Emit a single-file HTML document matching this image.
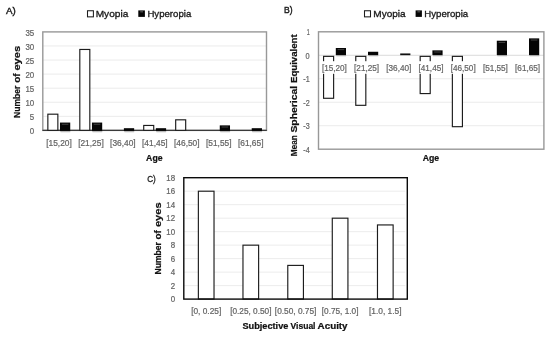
<!DOCTYPE html>
<html lang="en">
<head>
<meta charset="utf-8">
<title>Figure: refractive error distribution</title>
<style>
html,body{margin:0;padding:0;background:#fff;}
body{width:550px;height:339px;overflow:hidden;}
svg{display:block;font-family:"Liberation Sans", sans-serif;}
</style>
</head>
<body>
<svg width="550" height="339" viewBox="0 0 550 339">
<rect x="0" y="0" width="550" height="339" fill="#ffffff"/>
<line x1="42.80" y1="116.33" x2="266.50" y2="116.33" stroke="#ebebeb" stroke-width="1"/>
<line x1="42.80" y1="102.26" x2="266.50" y2="102.26" stroke="#ebebeb" stroke-width="1"/>
<line x1="42.80" y1="88.19" x2="266.50" y2="88.19" stroke="#ebebeb" stroke-width="1"/>
<line x1="42.80" y1="74.11" x2="266.50" y2="74.11" stroke="#ebebeb" stroke-width="1"/>
<line x1="42.80" y1="60.04" x2="266.50" y2="60.04" stroke="#ebebeb" stroke-width="1"/>
<line x1="42.80" y1="45.97" x2="266.50" y2="45.97" stroke="#ebebeb" stroke-width="1"/>
<rect x="42.80" y="31.90" width="223.70" height="98.50" fill="none" stroke="#989898" stroke-width="1.4"/>
<line x1="42.50" y1="130.40" x2="266.80" y2="130.40" stroke="#3a3a3a" stroke-width="1.15"/>
<rect x="47.85" y="114.19" width="10.00" height="16.14" fill="#fff" stroke="#1c1c1c" stroke-width="1.15"/>
<rect x="60.28" y="130.90" width="10.05" height="0.90" fill="#000" opacity="0.28"/>
<rect x="60.58" y="131.80" width="9.65" height="0.90" fill="#000" opacity="0.10"/>
<rect x="59.98" y="122.56" width="10.25" height="8.34" fill="#050505"/>
<rect x="61.78" y="123.76" width="6.65" height="0.90" fill="#4a4a4a"/>
<text x="58.98" y="146.00" font-size="8.7" text-anchor="middle" fill="#646464" textLength="25.60" lengthAdjust="spacingAndGlyphs" stroke="#646464" stroke-width="0.22">[15,20]</text>
<rect x="79.81" y="49.46" width="10.00" height="80.86" fill="#fff" stroke="#1c1c1c" stroke-width="1.15"/>
<rect x="92.24" y="130.90" width="10.05" height="0.90" fill="#000" opacity="0.28"/>
<rect x="92.54" y="131.80" width="9.65" height="0.90" fill="#000" opacity="0.10"/>
<rect x="91.94" y="122.56" width="10.25" height="8.34" fill="#050505"/>
<rect x="93.74" y="123.76" width="6.65" height="0.90" fill="#4a4a4a"/>
<text x="90.94" y="146.00" font-size="8.7" text-anchor="middle" fill="#646464" textLength="25.60" lengthAdjust="spacingAndGlyphs" stroke="#646464" stroke-width="0.22">[21,25]</text>
<rect x="124.19" y="130.90" width="10.05" height="0.90" fill="#000" opacity="0.28"/>
<rect x="124.49" y="131.80" width="9.65" height="0.90" fill="#000" opacity="0.10"/>
<rect x="123.89" y="128.19" width="10.25" height="2.71" fill="#050505"/>
<text x="122.89" y="146.00" font-size="8.7" text-anchor="middle" fill="#646464" textLength="25.60" lengthAdjust="spacingAndGlyphs" stroke="#646464" stroke-width="0.22">[36,40]</text>
<rect x="143.72" y="125.45" width="10.00" height="4.88" fill="#fff" stroke="#1c1c1c" stroke-width="1.15"/>
<rect x="156.15" y="130.90" width="10.05" height="0.90" fill="#000" opacity="0.28"/>
<rect x="156.45" y="131.80" width="9.65" height="0.90" fill="#000" opacity="0.10"/>
<rect x="155.85" y="128.19" width="10.25" height="2.71" fill="#050505"/>
<text x="154.85" y="146.00" font-size="8.7" text-anchor="middle" fill="#646464" textLength="25.60" lengthAdjust="spacingAndGlyphs" stroke="#646464" stroke-width="0.22">[41,45]</text>
<rect x="175.68" y="119.82" width="10.00" height="10.51" fill="#fff" stroke="#1c1c1c" stroke-width="1.15"/>
<text x="186.81" y="146.00" font-size="8.7" text-anchor="middle" fill="#646464" textLength="25.60" lengthAdjust="spacingAndGlyphs" stroke="#646464" stroke-width="0.22">[46,50]</text>
<rect x="220.06" y="130.90" width="10.05" height="0.90" fill="#000" opacity="0.28"/>
<rect x="220.36" y="131.80" width="9.65" height="0.90" fill="#000" opacity="0.10"/>
<rect x="219.76" y="125.37" width="10.25" height="5.53" fill="#050505"/>
<rect x="221.56" y="126.57" width="6.65" height="0.90" fill="#4a4a4a"/>
<text x="218.76" y="146.00" font-size="8.7" text-anchor="middle" fill="#646464" textLength="25.60" lengthAdjust="spacingAndGlyphs" stroke="#646464" stroke-width="0.22">[51,55]</text>
<rect x="252.02" y="130.90" width="10.05" height="0.90" fill="#000" opacity="0.28"/>
<rect x="252.32" y="131.80" width="9.65" height="0.90" fill="#000" opacity="0.10"/>
<rect x="251.72" y="128.19" width="10.25" height="2.71" fill="#050505"/>
<text x="250.72" y="146.00" font-size="8.7" text-anchor="middle" fill="#646464" textLength="25.60" lengthAdjust="spacingAndGlyphs" stroke="#646464" stroke-width="0.22">[61,65]</text>
<text x="34.20" y="134.00" font-size="8.7" text-anchor="end" fill="#646464" textLength="4.40" lengthAdjust="spacingAndGlyphs" stroke="#646464" stroke-width="0.22">0</text>
<text x="34.20" y="119.93" font-size="8.7" text-anchor="end" fill="#646464" textLength="4.40" lengthAdjust="spacingAndGlyphs" stroke="#646464" stroke-width="0.22">5</text>
<text x="34.20" y="105.86" font-size="8.7" text-anchor="end" fill="#646464" textLength="8.80" lengthAdjust="spacingAndGlyphs" stroke="#646464" stroke-width="0.22">10</text>
<text x="34.20" y="91.79" font-size="8.7" text-anchor="end" fill="#646464" textLength="8.80" lengthAdjust="spacingAndGlyphs" stroke="#646464" stroke-width="0.22">15</text>
<text x="34.20" y="77.71" font-size="8.7" text-anchor="end" fill="#646464" textLength="8.80" lengthAdjust="spacingAndGlyphs" stroke="#646464" stroke-width="0.22">20</text>
<text x="34.20" y="63.64" font-size="8.7" text-anchor="end" fill="#646464" textLength="8.80" lengthAdjust="spacingAndGlyphs" stroke="#646464" stroke-width="0.22">25</text>
<text x="34.20" y="49.57" font-size="8.7" text-anchor="end" fill="#646464" textLength="8.80" lengthAdjust="spacingAndGlyphs" stroke="#646464" stroke-width="0.22">30</text>
<text x="34.20" y="35.50" font-size="8.7" text-anchor="end" fill="#646464" textLength="8.80" lengthAdjust="spacingAndGlyphs" stroke="#646464" stroke-width="0.22">35</text>
<text transform="translate(19.80 118.00) rotate(-90)" font-size="9.7" font-weight="700" fill="#111" stroke="#111" stroke-width="0.22"><tspan x="0.00" textLength="32.40" lengthAdjust="spacingAndGlyphs">Number</tspan> <tspan x="35.30" textLength="9.30" lengthAdjust="spacingAndGlyphs">of</tspan> <tspan x="47.40" textLength="24.90" lengthAdjust="spacingAndGlyphs">eyes</tspan></text>
<text x="146.10" y="161.10" font-size="9.2" text-anchor="start" fill="#111" font-weight="700" textLength="16.50" lengthAdjust="spacingAndGlyphs" stroke="#111" stroke-width="0.22">Age</text>
<text x="5.90" y="13.60" font-size="9.6" text-anchor="start" fill="#1a1a1a" textLength="9.80" lengthAdjust="spacingAndGlyphs" stroke="#1a1a1a" stroke-width="0.4">A)</text>
<rect x="87.50" y="10.75" width="5.90" height="6.10" fill="#fff" stroke="#1c1c1c" stroke-width="1.05"/>
<text x="95.70" y="16.80" font-size="9.7" text-anchor="start" fill="#1a1a1a" textLength="32.60" lengthAdjust="spacingAndGlyphs" stroke="#1a1a1a" stroke-width="0.32">Myopia</text>
<rect x="138.30" y="10.40" width="6.60" height="6.50" fill="#050505"/>
<rect x="140.20" y="11.40" width="2.80" height="0.90" fill="#6a6a6a"/>
<text x="147.40" y="16.80" font-size="9.7" text-anchor="start" fill="#1a1a1a" textLength="43.90" lengthAdjust="spacingAndGlyphs" stroke="#1a1a1a" stroke-width="0.32">Hyperopia</text>
<line x1="318.50" y1="55.28" x2="543.90" y2="55.28" stroke="#dadada" stroke-width="1"/>
<line x1="318.50" y1="78.76" x2="543.90" y2="78.76" stroke="#ebebeb" stroke-width="1"/>
<line x1="318.50" y1="102.24" x2="543.90" y2="102.24" stroke="#ebebeb" stroke-width="1"/>
<line x1="318.50" y1="125.72" x2="543.90" y2="125.72" stroke="#ebebeb" stroke-width="1"/>
<rect x="318.50" y="31.80" width="225.40" height="117.40" fill="none" stroke="#989898" stroke-width="1.4"/>
<rect x="323.57" y="56.36" width="10.05" height="41.92" fill="#fff" stroke="#1c1c1c" stroke-width="1.15"/>
<rect x="336.10" y="54.98" width="10.00" height="0.90" fill="#000" opacity="0.28"/>
<rect x="336.40" y="55.88" width="9.60" height="0.90" fill="#000" opacity="0.10"/>
<rect x="335.80" y="48.00" width="10.20" height="6.98" fill="#050505"/>
<rect x="337.60" y="49.20" width="6.60" height="0.90" fill="#4a4a4a"/>
<rect x="320.10" y="61.20" width="29.00" height="12.60" fill="#fff"/>
<text x="334.40" y="71.30" font-size="8.7" text-anchor="middle" fill="#646464" textLength="25.00" lengthAdjust="spacingAndGlyphs" stroke="#646464" stroke-width="0.22">[15,20]</text>
<rect x="355.77" y="56.36" width="10.05" height="48.96" fill="#fff" stroke="#1c1c1c" stroke-width="1.15"/>
<rect x="368.30" y="54.98" width="10.00" height="0.90" fill="#000" opacity="0.28"/>
<rect x="368.60" y="55.88" width="9.60" height="0.90" fill="#000" opacity="0.10"/>
<rect x="368.00" y="51.76" width="10.20" height="3.22" fill="#050505"/>
<rect x="352.30" y="61.20" width="29.00" height="12.60" fill="#fff"/>
<text x="366.60" y="71.30" font-size="8.7" text-anchor="middle" fill="#646464" textLength="25.00" lengthAdjust="spacingAndGlyphs" stroke="#646464" stroke-width="0.22">[21,25]</text>
<rect x="400.20" y="53.44" width="10.20" height="1.74" fill="#111"/>
<rect x="384.50" y="61.20" width="29.00" height="12.60" fill="#fff"/>
<text x="398.80" y="71.30" font-size="8.7" text-anchor="middle" fill="#646464" textLength="25.00" lengthAdjust="spacingAndGlyphs" stroke="#646464" stroke-width="0.22">[36,40]</text>
<rect x="420.17" y="56.36" width="10.05" height="37.22" fill="#fff" stroke="#1c1c1c" stroke-width="1.15"/>
<rect x="432.70" y="54.98" width="10.00" height="0.90" fill="#000" opacity="0.28"/>
<rect x="433.00" y="55.88" width="9.60" height="0.90" fill="#000" opacity="0.10"/>
<rect x="432.40" y="50.35" width="10.20" height="4.63" fill="#050505"/>
<rect x="434.20" y="51.55" width="6.60" height="0.90" fill="#4a4a4a"/>
<rect x="416.70" y="61.20" width="29.00" height="12.60" fill="#fff"/>
<text x="431.00" y="71.30" font-size="8.7" text-anchor="middle" fill="#646464" textLength="25.00" lengthAdjust="spacingAndGlyphs" stroke="#646464" stroke-width="0.22">[41,45]</text>
<rect x="452.37" y="56.36" width="10.05" height="70.33" fill="#fff" stroke="#1c1c1c" stroke-width="1.15"/>
<rect x="448.90" y="61.20" width="29.00" height="12.60" fill="#fff"/>
<text x="463.20" y="71.30" font-size="8.7" text-anchor="middle" fill="#646464" textLength="25.00" lengthAdjust="spacingAndGlyphs" stroke="#646464" stroke-width="0.22">[46,50]</text>
<rect x="497.10" y="54.98" width="10.00" height="0.90" fill="#000" opacity="0.28"/>
<rect x="497.40" y="55.88" width="9.60" height="0.90" fill="#000" opacity="0.10"/>
<rect x="496.80" y="40.72" width="10.20" height="14.26" fill="#050505"/>
<rect x="498.60" y="41.92" width="6.60" height="0.90" fill="#4a4a4a"/>
<rect x="481.10" y="61.20" width="29.00" height="12.60" fill="#fff"/>
<text x="495.40" y="71.30" font-size="8.7" text-anchor="middle" fill="#646464" textLength="25.00" lengthAdjust="spacingAndGlyphs" stroke="#646464" stroke-width="0.22">[51,55]</text>
<rect x="529.30" y="54.98" width="10.00" height="0.90" fill="#000" opacity="0.28"/>
<rect x="529.60" y="55.88" width="9.60" height="0.90" fill="#000" opacity="0.10"/>
<rect x="529.00" y="38.37" width="10.20" height="16.61" fill="#050505"/>
<rect x="530.80" y="39.57" width="6.60" height="0.90" fill="#4a4a4a"/>
<rect x="513.30" y="61.20" width="29.00" height="12.60" fill="#fff"/>
<text x="527.60" y="71.30" font-size="8.7" text-anchor="middle" fill="#646464" textLength="25.00" lengthAdjust="spacingAndGlyphs" stroke="#646464" stroke-width="0.22">[61,65]</text>
<text x="309.70" y="35.30" font-size="8.7" text-anchor="end" fill="#646464" textLength="3.00" lengthAdjust="spacingAndGlyphs" stroke="#646464" stroke-width="0.22">1</text>
<text x="309.70" y="58.78" font-size="8.7" text-anchor="end" fill="#646464" textLength="4.10" lengthAdjust="spacingAndGlyphs" stroke="#646464" stroke-width="0.22">0</text>
<text x="309.70" y="82.26" font-size="8.7" text-anchor="end" fill="#646464" textLength="6.40" lengthAdjust="spacingAndGlyphs" stroke="#646464" stroke-width="0.22">-1</text>
<text x="309.70" y="105.74" font-size="8.7" text-anchor="end" fill="#646464" textLength="6.40" lengthAdjust="spacingAndGlyphs" stroke="#646464" stroke-width="0.22">-2</text>
<text x="309.70" y="128.82" font-size="8.7" text-anchor="end" fill="#646464" textLength="6.40" lengthAdjust="spacingAndGlyphs" stroke="#646464" stroke-width="0.22">-3</text>
<text x="309.70" y="152.70" font-size="8.7" text-anchor="end" fill="#646464" textLength="6.40" lengthAdjust="spacingAndGlyphs" stroke="#646464" stroke-width="0.22">-4</text>
<text transform="translate(297.10 156.20) rotate(-90)" font-size="9.4" font-weight="700" fill="#111" stroke="#111" stroke-width="0.22"><tspan x="0.00" textLength="21.00" lengthAdjust="spacingAndGlyphs">Mean</tspan> <tspan x="23.60" textLength="46.80" lengthAdjust="spacingAndGlyphs">Spherical</tspan> <tspan x="73.20" textLength="48.60" lengthAdjust="spacingAndGlyphs">Equivalent</tspan></text>
<text x="422.70" y="161.00" font-size="9.2" text-anchor="start" fill="#111" font-weight="700" textLength="16.50" lengthAdjust="spacingAndGlyphs" stroke="#111" stroke-width="0.22">Age</text>
<text x="284.00" y="12.90" font-size="9.4" text-anchor="start" fill="#1a1a1a" textLength="8.60" lengthAdjust="spacingAndGlyphs" stroke="#1a1a1a" stroke-width="0.4">B)</text>
<rect x="364.50" y="10.75" width="6.00" height="6.10" fill="#fff" stroke="#1c1c1c" stroke-width="1.05"/>
<text x="373.30" y="16.80" font-size="9.7" text-anchor="start" fill="#1a1a1a" textLength="32.30" lengthAdjust="spacingAndGlyphs" stroke="#1a1a1a" stroke-width="0.32">Myopia</text>
<rect x="415.60" y="10.40" width="6.30" height="6.50" fill="#050505"/>
<rect x="417.40" y="11.40" width="2.80" height="0.90" fill="#6a6a6a"/>
<text x="424.30" y="16.80" font-size="9.7" text-anchor="start" fill="#1a1a1a" textLength="43.90" lengthAdjust="spacingAndGlyphs" stroke="#1a1a1a" stroke-width="0.32">Hyperopia</text>
<line x1="183.80" y1="285.61" x2="405.30" y2="285.61" stroke="#ececec" stroke-width="1"/>
<line x1="183.80" y1="272.12" x2="405.30" y2="272.12" stroke="#ececec" stroke-width="1"/>
<line x1="183.80" y1="258.63" x2="405.30" y2="258.63" stroke="#ececec" stroke-width="1"/>
<line x1="183.80" y1="245.14" x2="405.30" y2="245.14" stroke="#ececec" stroke-width="1"/>
<line x1="183.80" y1="231.66" x2="405.30" y2="231.66" stroke="#ececec" stroke-width="1"/>
<line x1="183.80" y1="218.17" x2="405.30" y2="218.17" stroke="#ececec" stroke-width="1"/>
<line x1="183.80" y1="204.68" x2="405.30" y2="204.68" stroke="#ececec" stroke-width="1"/>
<line x1="183.80" y1="191.19" x2="405.30" y2="191.19" stroke="#ececec" stroke-width="1"/>
<rect x="198.37" y="191.21" width="15.65" height="107.81" fill="#fff" stroke="#1c1c1c" stroke-width="1.15"/>
<text x="206.20" y="314.00" font-size="8.5" text-anchor="middle" fill="#646464" textLength="30.00" lengthAdjust="spacingAndGlyphs" stroke="#646464" stroke-width="0.22">[0, 0.25]</text>
<rect x="242.97" y="245.17" width="15.65" height="53.86" fill="#fff" stroke="#1c1c1c" stroke-width="1.15"/>
<text x="250.80" y="314.00" font-size="8.5" text-anchor="middle" fill="#646464" textLength="41.30" lengthAdjust="spacingAndGlyphs" stroke="#646464" stroke-width="0.22">[0.25, 0.50]</text>
<rect x="287.78" y="265.40" width="15.65" height="33.62" fill="#fff" stroke="#1c1c1c" stroke-width="1.15"/>
<text x="295.60" y="314.00" font-size="8.5" text-anchor="middle" fill="#646464" textLength="41.50" lengthAdjust="spacingAndGlyphs" stroke="#646464" stroke-width="0.22">[0.50, 0.75]</text>
<rect x="332.28" y="218.19" width="15.65" height="80.83" fill="#fff" stroke="#1c1c1c" stroke-width="1.15"/>
<text x="340.10" y="314.00" font-size="8.5" text-anchor="middle" fill="#646464" textLength="36.70" lengthAdjust="spacingAndGlyphs" stroke="#646464" stroke-width="0.22">[0.75, 1.0]</text>
<rect x="377.48" y="224.94" width="15.65" height="74.09" fill="#fff" stroke="#1c1c1c" stroke-width="1.15"/>
<text x="385.30" y="314.00" font-size="8.5" text-anchor="middle" fill="#646464" textLength="32.60" lengthAdjust="spacingAndGlyphs" stroke="#646464" stroke-width="0.22">[1.0, 1.5]</text>
<rect x="183.80" y="177.70" width="223.50" height="121.40" fill="none" stroke="#0a0a0a" stroke-width="1.4"/>
<text x="175.10" y="302.10" font-size="8.5" text-anchor="end" fill="#646464" textLength="4.40" lengthAdjust="spacingAndGlyphs" stroke="#646464" stroke-width="0.22">0</text>
<text x="175.10" y="288.61" font-size="8.5" text-anchor="end" fill="#646464" textLength="4.40" lengthAdjust="spacingAndGlyphs" stroke="#646464" stroke-width="0.22">2</text>
<text x="175.10" y="275.12" font-size="8.5" text-anchor="end" fill="#646464" textLength="4.40" lengthAdjust="spacingAndGlyphs" stroke="#646464" stroke-width="0.22">4</text>
<text x="175.10" y="261.63" font-size="8.5" text-anchor="end" fill="#646464" textLength="4.40" lengthAdjust="spacingAndGlyphs" stroke="#646464" stroke-width="0.22">6</text>
<text x="175.10" y="248.14" font-size="8.5" text-anchor="end" fill="#646464" textLength="4.40" lengthAdjust="spacingAndGlyphs" stroke="#646464" stroke-width="0.22">8</text>
<text x="175.10" y="234.66" font-size="8.5" text-anchor="end" fill="#646464" textLength="8.80" lengthAdjust="spacingAndGlyphs" stroke="#646464" stroke-width="0.22">10</text>
<text x="175.10" y="221.17" font-size="8.5" text-anchor="end" fill="#646464" textLength="8.80" lengthAdjust="spacingAndGlyphs" stroke="#646464" stroke-width="0.22">12</text>
<text x="175.10" y="207.68" font-size="8.5" text-anchor="end" fill="#646464" textLength="8.80" lengthAdjust="spacingAndGlyphs" stroke="#646464" stroke-width="0.22">14</text>
<text x="175.10" y="194.19" font-size="8.5" text-anchor="end" fill="#646464" textLength="8.80" lengthAdjust="spacingAndGlyphs" stroke="#646464" stroke-width="0.22">16</text>
<text x="175.10" y="180.70" font-size="8.5" text-anchor="end" fill="#646464" textLength="8.80" lengthAdjust="spacingAndGlyphs" stroke="#646464" stroke-width="0.22">18</text>
<text transform="translate(160.60 274.50) rotate(-90)" font-size="9.2" font-weight="700" fill="#111" stroke="#111" stroke-width="0.22"><tspan x="0.00" textLength="32.40" lengthAdjust="spacingAndGlyphs">Number</tspan> <tspan x="35.00" textLength="9.40" lengthAdjust="spacingAndGlyphs">of</tspan> <tspan x="47.40" textLength="24.70" lengthAdjust="spacingAndGlyphs">eyes</tspan></text>
<text y="328.60" font-size="8.7" font-weight="700" fill="#111" stroke="#111" stroke-width="0.22"><tspan x="242.40" textLength="46.00" lengthAdjust="spacingAndGlyphs">Subjective</tspan> <tspan x="290.50" textLength="25.00" lengthAdjust="spacingAndGlyphs">Visual</tspan> <tspan x="317.60" textLength="30.00" lengthAdjust="spacingAndGlyphs">Acuity</tspan></text>
<text x="147.20" y="181.70" font-size="9.3" text-anchor="start" fill="#1a1a1a" textLength="8.60" lengthAdjust="spacingAndGlyphs" stroke="#1a1a1a" stroke-width="0.3">C)</text>
</svg>
</body>
</html>
